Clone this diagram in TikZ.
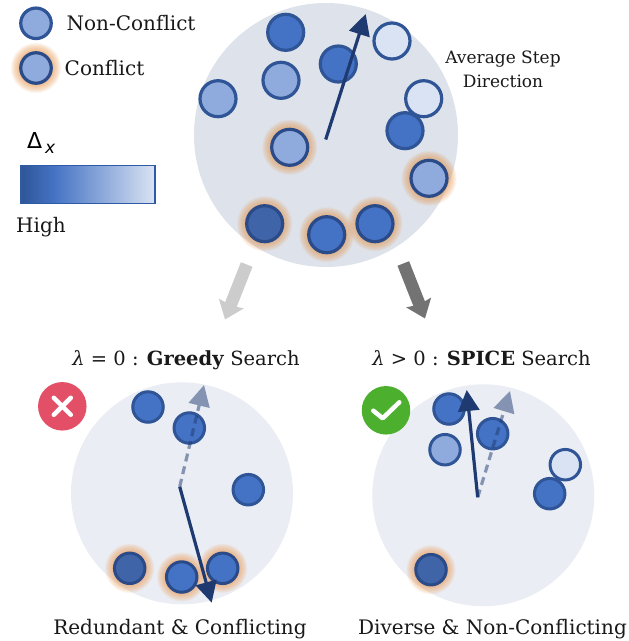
\documentclass[tikz,border=0pt]{standalone}
\usepackage{fontspec}
\setmainfont[Ligatures=NoCommon]{DejaVu Serif}
\newfontfamily\dsans{DejaVu Sans}
\usetikzlibrary{arrows.meta}
\definecolor{cmid}{HTML}{4472C4}
\definecolor{cmed}{HTML}{8FAADC}
\definecolor{clight}{HTML}{DAE3F3}
\definecolor{cdark}{HTML}{3F64A8}
\definecolor{cstroke}{HTML}{2F5597}
\definecolor{cstrokeg}{HTML}{2B4A88}
\definecolor{cglow}{HTML}{F09A50}
\definecolor{cnavy}{HTML}{1F3A70}
\definecolor{cbig}{HTML}{DEE3EB}
\definecolor{csmall}{HTML}{EAEEF4}
\definecolor{cbarl}{HTML}{2F5AA6}
\pgfdeclarehorizontalshading{deltabar}{100bp}{
  color(0bp)=(cstroke); color(25bp)=(cstroke); color(37bp)=(cmid); color(75bp)=(clight); color(100bp)=(clight)}
\tikzset{
  big/.style={circle,draw=none,fill=cbig,minimum size=264pt,inner sep=0pt},
  small/.style={circle,draw=none,fill=csmall,minimum size=222pt,inner sep=0pt},
  dotL/.style={circle,draw=cstroke,line width=3.2pt,minimum size=36pt,inner sep=0pt},
  dotS/.style={circle,draw=cstroke,line width=3pt,minimum size=30.5pt,inner sep=0pt},
  stg/.style={draw=cstrokeg},
  lab/.style={inner sep=0pt,font=\fontsize{20pt}{24pt}\selectfont,text=black!90},
  title/.style={inner sep=0pt,anchor=base,font=\fontsize{19.5pt}{24pt}\selectfont,text=black!90},
  mainarrow/.style={cnavy,line width=3.2pt,-{Triangle[width=21pt,length=21pt]}},
  dasharrow/.style={cnavy,line width=3.2pt,dash pattern=on 8pt off 5pt,-{Triangle[width=21pt,length=21pt]}},
  lightarrow/.style={line width=12.5pt,-{Stealth[width=26pt,length=17pt,inset=2pt]}},
  badge/.style={circle,draw=none,minimum size=48.5pt,inner sep=0pt},
  mark line/.style={white,line width=4.5pt,line cap=round,line join=round},
}
\newcommand{\glowat}[3]{%
  \foreach \k in {1,...,16}{\fill[cglow,opacity=.05] (#1,#2) circle ({#3+\k*0.55pt});}%
}
\begin{document}
\begin{tikzpicture}[x=1pt,y=-1pt]
\path[use as bounding box,fill=white] (0,0) rectangle (629,641);
% legend
\node[dotL,fill=cmed,minimum size=30.5pt] (leg1) at (36,23.3) {};
\glowat{36}{68}{16.5pt}
\node[dotL,stg,fill=cmed,minimum size=30.5pt] (leg2) at (36,68) {};
\node[lab,anchor=west] (legt1) at (66.5,23.5) {Non-Conflict};
\node[lab,anchor=west] (legt2) at (64.5,68.5) {Conflict};
\node[inner sep=0pt,anchor=west,font=\fontsize{22pt}{24pt}\selectfont,text=black] (dl) at (27,143) {\dsans Δ\kern3pt\raisebox{-5pt}{\fontsize{17pt}{17pt}\selectfont\itshape x}};
\node[draw=cbarl,line width=1.6pt,shading=deltabar,minimum width=134pt,minimum height=38pt,inner sep=0pt] (bar) at (88,184.5) {};
\node[lab,anchor=west] (hi) at (16,227) {High};
% main panel
\node[big] (main) at (326,135) {};
\node[dotL,fill=cmid] (a1) at (285.7,32.3) {};
\node[dotL,fill=cmid] (a2) at (338.3,64) {};
\node[dotL,fill=clight] (a3) at (392,41) {};
\node[dotL,fill=cmed] (a4) at (281,80.3) {};
\node[dotL,fill=cmed] (a5) at (218,98.7) {};
\node[dotL,fill=clight] (a6) at (423.7,98.7) {};
\node[dotL,fill=cmid] (a7) at (405,130.7) {};
\glowat{289.7}{147.3}{19pt}
\node[dotL,stg,fill=cmed] (a8) at (289.7,147.3) {};
\glowat{429}{178.3}{19pt}
\node[dotL,stg,fill=cmed] (a9) at (429,178.3) {};
\glowat{264.7}{223.7}{19pt}
\node[dotL,stg,fill=cdark] (a10) at (264.7,223.7) {};
\glowat{375}{223.7}{19pt}
\node[dotL,stg,fill=cmid] (a11) at (375,223.7) {};
\glowat{326.7}{234.7}{19pt}
\node[dotL,stg,fill=cmid] (a12) at (326.7,234.7) {};
\coordinate (mfrom) at (325.7,139.5);
\coordinate (mto) at (365.7,14);
\draw[mainarrow] (mfrom) -- (mto);
\node[lab,align=center,font=\fontsize{17pt}{24pt}\selectfont] (avg) at (503,69) {Average Step\\Direction};
% transition arrows
\coordinate (lg1) at (246.7,264.5);
\coordinate (lg2) at (225,319.5);
\coordinate (dg1) at (403.3,263.5);
\coordinate (dg2) at (425,318.5);
\draw[lightarrow,color=black!20] (lg1) -- (lg2);
\draw[lightarrow,color=black!55] (dg1) -- (dg2);
% left panel
\node[title] (ltitle) at (186,365.5) {\textit{λ} = 0 : \textbf{Greedy} Search};
\node[small] (lp) at (182,493.3) {};
\node[dotS,fill=cmid] (b1) at (148,407) {};
\node[dotS,fill=cmid] (b2) at (189.3,428) {};
\node[dotS,fill=cmid] (b3) at (248.3,489.7) {};
\glowat{129.7}{568.3}{16pt}
\node[dotS,stg,fill=cdark] (b4) at (129.7,568.3) {};
\glowat{222.7}{568.3}{16pt}
\node[dotS,stg,fill=cmid] (b5) at (222.7,568.3) {};
\glowat{181.7}{577}{16pt}
\node[dotS,stg,fill=cmid] (b6) at (181.7,577) {};
\coordinate (lo) at (179.7,486.7);
\coordinate (lavg) at (204,385);
\coordinate (lres) at (211.7,602.7);
\begin{scope}[transparency group,opacity=.5]
\draw[dasharrow] (lo) -- (lavg);
\end{scope}
\draw[mainarrow] (lo) -- (lres);
\node[badge,fill={rgb,255:red,226;green,79;blue,102}] (xb) at (62.3,406.3) {};
\coordinate (x1) at ([shift={(-8.5,-8.5)}]xb.center);
\coordinate (x2) at ([shift={(8.5,8.5)}]xb.center);
\coordinate (x3) at ([shift={(-8.5,8.5)}]xb.center);
\coordinate (x4) at ([shift={(8.5,-8.5)}]xb.center);
\draw[mark line] (x1) -- (x2);
\draw[mark line] (x3) -- (x4);
\node[lab] (lcap) at (180,629) {Redundant \& Conflicting};
% right panel
\node[title] (rtitle) at (481.5,365.5) {\textit{λ} > 0 : \textbf{SPICE} Search};
\node[small] (rp) at (483.3,495.3) {};
\node[dotS,fill=cmid] (c1) at (449,409) {};
\node[dotS,fill=cmid] (c2) at (492.7,433.7) {};
\node[dotS,fill=cmed] (c3) at (445,449.7) {};
\node[dotS,fill=clight] (c4) at (565.3,464.7) {};
\node[dotS,fill=cmid] (c5) at (549.7,493.7) {};
\glowat{431}{569.7}{16pt}
\node[dotS,stg,fill=cdark] (c6) at (431,569.7) {};
\coordinate (ro) at (477.7,497.3);
\coordinate (rres) at (466.7,390);
\coordinate (ravg) at (510,391);
\begin{scope}[transparency group,opacity=.5]
\draw[dasharrow] (ro) -- (ravg);
\end{scope}
\draw[mainarrow] (ro) -- (rres);
\node[badge,fill={rgb,255:red,76;green,175;blue,46}] (cb) at (386,410.3) {};
\coordinate (k1) at ([shift={(-12.7,0.4)}]cb.center);
\coordinate (k2) at ([shift={(-3.3,8)}]cb.center);
\coordinate (k3) at ([shift={(13.3,-8)}]cb.center);
\draw[mark line] (k1) -- (k2) -- (k3);
\node[lab] (rcap) at (492.5,629) {Diverse \& Non-Conflicting};
\end{tikzpicture}
\end{document}
